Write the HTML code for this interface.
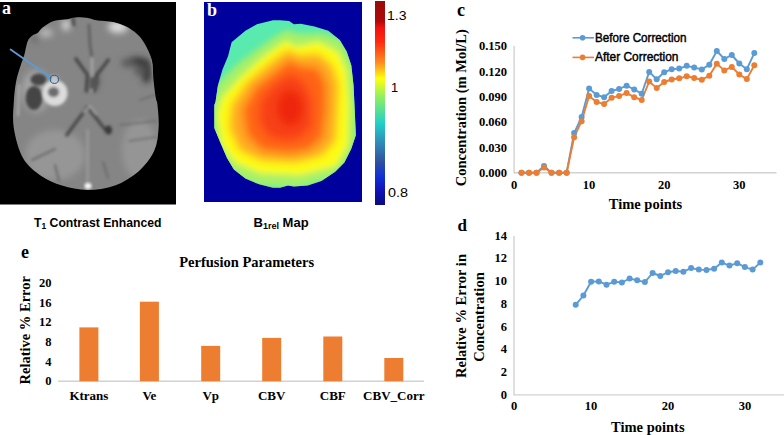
<!DOCTYPE html>
<html><head><meta charset="utf-8"><style>
html,body{margin:0;padding:0;background:#fff;width:784px;height:435px;overflow:hidden}
svg{position:absolute;left:0;top:0;display:block}
.serif{font-family:"Liberation Serif",serif;font-weight:bold;fill:#000}
.sans{font-family:"Liberation Sans",sans-serif;fill:#000}
</style></head><body>
<svg width="784" height="435" viewBox="0 0 784 435">
<defs>
  <filter id="blur1" x="-20%" y="-20%" width="140%" height="140%"><feGaussianBlur stdDeviation="1.5"/></filter>
  <filter id="blur4" x="-30%" y="-30%" width="160%" height="160%"><feGaussianBlur stdDeviation="4.5"/></filter>
  <filter id="blur3" x="-30%" y="-30%" width="160%" height="160%"><feGaussianBlur stdDeviation="3"/></filter>
  <clipPath id="clipA"><path d="M76.0,17.4 C80.0,17.2 85.6,17.8 89.0,18.3 C92.4,18.8 92.3,19.6 96.3,20.2 C100.3,20.8 108.0,20.9 113.0,22.0 C118.0,23.1 122.0,24.6 126.0,26.6 C130.0,28.6 133.9,31.2 137.0,34.0 C140.1,36.8 141.9,39.0 144.4,43.3 C146.9,47.6 150.3,54.0 151.8,60.0 C153.3,66.0 152.8,72.8 153.4,79.1 C154.1,85.4 155.0,93.3 155.7,97.6 C156.4,101.9 157.0,99.9 157.5,105.0 C158.0,110.1 159.2,120.3 158.6,128.0 C158.0,135.7 157.4,143.7 154.0,151.0 C150.6,158.3 144.5,165.9 138.0,171.7 C131.5,177.4 123.4,182.4 115.0,185.5 C106.6,188.6 96.2,190.0 87.4,190.0 C78.6,190.0 69.7,187.8 62.0,185.5 C54.3,183.2 47.9,180.6 41.4,176.0 C34.9,171.4 27.6,166.0 23.0,158.0 C18.4,150.0 15.3,137.3 13.8,128.0 C12.3,118.7 13.4,109.8 13.8,102.0 C14.2,94.2 15.0,87.5 16.1,81.4 C17.2,75.3 19.4,69.7 20.7,65.3 C22.0,60.9 23.0,59.2 24.2,55.2 C25.4,51.2 26.3,44.6 27.6,41.4 C28.9,38.1 30.5,37.1 32.2,35.7 C33.9,34.3 36.3,34.1 38.0,32.8 C39.7,31.4 40.1,29.5 42.6,27.6 C45.1,25.7 49.3,22.6 53.0,21.3 C56.7,20.0 61.2,20.2 65.0,19.6 C68.8,19.0 72.0,17.6 76.0,17.4 Z"/></clipPath>
  <clipPath id="clipB"><path d="M273,20.3 L280,20.3 289.2,21 293.8,24.3 300.7,23.8 314.5,26.6 328.3,30.7 339.8,39.9 346.7,51.4 351.3,65.2 353.6,85.9 354.7,110 355.9,134.9 351.3,148.7 344.4,162.5 335.2,171.7 321.4,180.9 307.6,185.5 293.8,186.6 288,185.5 280,187.8 273,187.8 259.2,184.3 245.4,178.6 233.9,169.4 227,157.9 220,141.8 214.3,128 214.3,105 215.5,102 217.8,85.9 222.4,69.8 228.1,56 231.6,42.2 245.4,30.7 256.9,24.3 Z"/></clipPath>
  <linearGradient id="jet" x1="0" y1="0" x2="0" y2="1">
    <stop offset="0" stop-color="#980a0a"/>
    <stop offset="0.1" stop-color="#b00a0a"/>
    <stop offset="0.13" stop-color="#f01010"/>
    <stop offset="0.2" stop-color="#ff2a10"/>
    <stop offset="0.3" stop-color="#ff8a20"/>
    <stop offset="0.38" stop-color="#ffff10"/>
    <stop offset="0.47" stop-color="#90f060"/>
    <stop offset="0.6" stop-color="#20d0c8"/>
    <stop offset="0.7" stop-color="#3088b8"/>
    <stop offset="0.79" stop-color="#3050a0"/>
    <stop offset="0.86" stop-color="#1030d8"/>
    <stop offset="0.94" stop-color="#1010b0"/>
    <stop offset="1" stop-color="#0a0a80"/>
  </linearGradient>
</defs>

<!-- panel a -->
<rect x="0" y="2" width="176" height="202.5" fill="#000"/>
<g clip-path="url(#clipA)">
  <rect x="0" y="0" width="176" height="210" fill="#858585"/>
  <g filter="url(#blur3)">
    <ellipse cx="140" cy="150" rx="18" ry="30" fill="#959595"/>
    <ellipse cx="55" cy="155" rx="30" ry="25" fill="#969696"/>
    <ellipse cx="118" cy="27" rx="10" ry="6" fill="#dadada"/>
    <ellipse cx="66" cy="25" rx="4" ry="6" fill="#d4d4d4"/>
    <ellipse cx="46" cy="33" rx="7" ry="4" fill="#bcbcbc"/>
    <ellipse cx="35" cy="39" rx="4" ry="4" fill="#6e6e6e"/>
    <path d="M124,64 Q136,58 146,63 Q150,72 145,82" stroke="#2e2e2e" stroke-width="7" fill="none"/>
    <ellipse cx="140" cy="70" rx="6" ry="6" fill="#5a5a5a"/>
    <ellipse cx="128" cy="63" rx="7" ry="4" fill="#585858"/>
    <ellipse cx="36" cy="91" rx="14" ry="21" fill="#a4a4a4"/>
    <ellipse cx="95" cy="82" rx="4" ry="7" fill="#505050"/>
  </g>
  <g filter="url(#blur1)" fill="none" stroke-linecap="round" stroke-linejoin="round">
    <path d="M89,25 L90,45 92,58" stroke="#5a5a5a" stroke-width="2.4"/>
    <path d="M73,18 L74,25" stroke="#4a4a4a" stroke-width="3"/>
    <path d="M92,58 L92,91" stroke="#acacac" stroke-width="2"/>
    <path d="M76,59 L87.6,75 86.4,91" stroke="#484848" stroke-width="3.6"/>
    <path d="M108.3,60 L96.8,75 94.5,91" stroke="#484848" stroke-width="3.6"/>
    <path d="M91,77 L97,77 96,89 90,89 Z" fill="#555" stroke="none"/>
    <path d="M87.4,107 L66.7,134.9 M87.4,107 L105.7,130.3" stroke="#4a4a4a" stroke-width="3.4"/>
    <ellipse cx="108.5" cy="130" rx="3.5" ry="4.5" fill="#3a3a3a" stroke="none"/>
    <path d="M32,160 L55,149 M55,165 L59,181 M103,162 L108,178" stroke="#6c6c6c" stroke-width="2.2"/>
    <path d="M84,112 L90,106 96,114" stroke="#a4a4a4" stroke-width="2"/>
    <path d="M87.6,130 L87.6,183" stroke="#a8a8a8" stroke-width="1.4"/>
    <path d="M120,125 L156,121 M129,141 L156,137 M140,100 L155,95" stroke="#6a6a6a" stroke-width="1.6"/>
    <path d="M153,52 L155,75" stroke="#c8c8c8" stroke-width="2"/>
    <path d="M19,85 L18,115" stroke="#b0b0b0" stroke-width="2"/>
    
    <ellipse cx="38.5" cy="79.5" rx="8" ry="6" fill="#474747"/>
    <ellipse cx="34" cy="98" rx="8.5" ry="12" fill="#444"/>
    
  </g>
  <g filter="url(#blur1)">
    <ellipse cx="55" cy="93" rx="12.5" ry="13" fill="#dcdcdc"/>
    <ellipse cx="53.5" cy="92" rx="5.8" ry="5.3" fill="#6c6c6c"/>
    <circle cx="54.4" cy="79.3" r="4" fill="#c4c4c4"/>
  </g>
  <ellipse cx="88" cy="186" rx="3.5" ry="3" fill="#fff" filter="url(#blur1)"/>
</g>
<line x1="10.6" y1="49.4" x2="48.5" y2="76" stroke="#5B9BD5" stroke-width="1.8" stroke-linecap="round"/>
<path d="M52.2,78.6 L46.2,78.3 L50,72.9 Z" fill="#5B9BD5"/>
<circle cx="54.4" cy="79.3" r="4.1" fill="none" stroke="#1f5a8a" stroke-width="1"/>
<text class="serif" x="2" y="14" font-size="18" style="fill:#fff">a</text>

<!-- panel b -->
<rect x="204" y="2" width="158" height="200" fill="#00009c"/>
<g clip-path="url(#clipB)">
  <rect x="200" y="0" width="170" height="210" fill="#58eaae"/>
  <g filter="url(#blur3)">
    <polygon points="270,40 286,30 300,34 322,33 342,40 356,70 358,110 357,140 348,162 332,178 300,188 260,186 238,178 222,162 212,135 211,105 216,85 240,62" fill="#a8f068"/>
    <polygon points="262,58 286,41 296,47 318,42 338,52 346,70 349,105 348,145 336,166 300,175 260,173 236,163 222,145 217,115 222,98 240,78" fill="#fcfc14"/>
  </g>
  <g filter="url(#blur4)">
    <polygon points="272,62 288,50 298,56 318,54 332,66 338,85 337,105 335,140 322,155 295,162 262,160 240,150 230,128 232,105 248,82" fill="#ffa820"/>
    <polygon points="280,68 290,60 300,66 318,68 326,85 326,110 322,138 308,150 288,153 262,150 247,135 243,110 255,88" fill="#ff6418"/>
    <polygon points="290,74 304,82 312,100 312,126 300,138 285,141 268,136 259,120 261,100 274,85" fill="#f84014"/>
    <ellipse cx="290" cy="108" rx="13" ry="18" fill="#ee2810"/>
  </g>
</g>
<text class="serif" x="207" y="16" font-size="18" style="fill:#fff">b</text>
<rect x="375" y="1" width="10" height="204" fill="url(#jet)"/>
<g class="sans" font-size="12.8">
  <text x="387" y="20" textLength="19.5" lengthAdjust="spacingAndGlyphs">1.3</text>
  <text x="391" y="92.2">1</text>
  <text x="388" y="197.2" textLength="20" lengthAdjust="spacingAndGlyphs">0.8</text>
</g>

<!-- captions -->
<g class="sans" font-weight="bold" font-size="13">
  <text x="34" y="226.5" textLength="127.5" lengthAdjust="spacingAndGlyphs">T<tspan font-size="9" dy="2">1</tspan><tspan dy="-2"> Contrast Enhanced</tspan></text>
  <text x="253.6" y="226.5">B<tspan font-size="9" dy="2">1rel</tspan><tspan dy="-2"> Map</tspan></text>
</g>

<!-- panel c -->
<text class="serif" x="457" y="16" font-size="18">c</text>
<line x1="514.1" y1="46" x2="514.1" y2="173.4" stroke="#D2D2D2" stroke-width="1.4"/>
<line x1="514" y1="172.8" x2="776.5" y2="172.8" stroke="#D2D2D2" stroke-width="1.4"/>
<g class="serif" font-size="12.5" text-anchor="end"><text x="507" y="177.1">0.000</text><text x="507" y="151.7">0.030</text><text x="507" y="126.4">0.060</text><text x="507" y="101.0">0.090</text><text x="507" y="75.7">0.120</text><text x="507" y="50.3">0.150</text></g>
<g class="serif" font-size="12.5" text-anchor="middle"><text x="514.0" y="189">0</text><text x="589.1" y="189">10</text><text x="664.2" y="189">20</text><text x="739.3" y="189">30</text></g>
<text class="serif" x="645.5" y="208.5" font-size="14.5" text-anchor="middle">Time points</text>
<text class="serif" font-size="14.5" text-anchor="middle" transform="translate(466,107.8) rotate(-90)">Concentration (m Mol/L)</text>
<g fill="none" stroke-width="1.9" stroke-linejoin="round">
  <polyline points="521.5,172.8 529.0,172.8 536.5,172.8 544.0,166.0 551.5,172.8 559.1,172.8 566.6,172.8 574.1,133.1 581.6,117.1 589.1,88.4 596.6,95.0 604.1,97.2 611.6,90.9 619.1,89.0 626.6,85.7 634.2,89.5 641.7,93.7 649.2,71.9 656.7,79.3 664.2,72.3 671.7,69.2 679.2,68.6 686.7,65.8 694.2,67.6 701.8,69.4 709.3,64.8 716.8,51.0 724.3,58.9 731.8,55.0 739.3,63.5 746.8,69.2 754.3,53.1" stroke="#5B9BD5"/>
  <polyline points="521.5,172.8 529.0,172.8 536.5,172.8 544.0,167.5 551.5,172.8 559.1,172.8 566.6,172.8 574.1,137.2 581.6,121.2 589.1,95.9 596.6,101.9 604.1,104.1 611.6,97.8 619.1,95.9 626.6,93.1 634.2,97.2 641.7,100.0 649.2,81.5 656.7,88.1 664.2,82.0 671.7,79.5 679.2,78.3 686.7,76.3 694.2,78.0 701.8,79.8 709.3,75.7 716.8,63.7 724.3,70.4 731.8,66.9 739.3,74.5 746.8,79.1 754.3,65.3" stroke="#ED7D31"/>
</g>
<g fill="#5B9BD5"><circle cx="521.5" cy="172.8" r="3.0"/><circle cx="529.0" cy="172.8" r="3.0"/><circle cx="536.5" cy="172.8" r="3.0"/><circle cx="544.0" cy="166.0" r="3.0"/><circle cx="551.5" cy="172.8" r="3.0"/><circle cx="559.1" cy="172.8" r="3.0"/><circle cx="566.6" cy="172.8" r="3.0"/><circle cx="574.1" cy="133.1" r="3.0"/><circle cx="581.6" cy="117.1" r="3.0"/><circle cx="589.1" cy="88.4" r="3.0"/><circle cx="596.6" cy="95.0" r="3.0"/><circle cx="604.1" cy="97.2" r="3.0"/><circle cx="611.6" cy="90.9" r="3.0"/><circle cx="619.1" cy="89.0" r="3.0"/><circle cx="626.6" cy="85.7" r="3.0"/><circle cx="634.2" cy="89.5" r="3.0"/><circle cx="641.7" cy="93.7" r="3.0"/><circle cx="649.2" cy="71.9" r="3.0"/><circle cx="656.7" cy="79.3" r="3.0"/><circle cx="664.2" cy="72.3" r="3.0"/><circle cx="671.7" cy="69.2" r="3.0"/><circle cx="679.2" cy="68.6" r="3.0"/><circle cx="686.7" cy="65.8" r="3.0"/><circle cx="694.2" cy="67.6" r="3.0"/><circle cx="701.8" cy="69.4" r="3.0"/><circle cx="709.3" cy="64.8" r="3.0"/><circle cx="716.8" cy="51.0" r="3.0"/><circle cx="724.3" cy="58.9" r="3.0"/><circle cx="731.8" cy="55.0" r="3.0"/><circle cx="739.3" cy="63.5" r="3.0"/><circle cx="746.8" cy="69.2" r="3.0"/><circle cx="754.3" cy="53.1" r="3.0"/></g>
<g fill="#ED7D31"><circle cx="521.5" cy="172.8" r="3.0"/><circle cx="529.0" cy="172.8" r="3.0"/><circle cx="536.5" cy="172.8" r="3.0"/><circle cx="544.0" cy="167.5" r="3.0"/><circle cx="551.5" cy="172.8" r="3.0"/><circle cx="559.1" cy="172.8" r="3.0"/><circle cx="566.6" cy="172.8" r="3.0"/><circle cx="574.1" cy="137.2" r="3.0"/><circle cx="581.6" cy="121.2" r="3.0"/><circle cx="589.1" cy="95.9" r="3.0"/><circle cx="596.6" cy="101.9" r="3.0"/><circle cx="604.1" cy="104.1" r="3.0"/><circle cx="611.6" cy="97.8" r="3.0"/><circle cx="619.1" cy="95.9" r="3.0"/><circle cx="626.6" cy="93.1" r="3.0"/><circle cx="634.2" cy="97.2" r="3.0"/><circle cx="641.7" cy="100.0" r="3.0"/><circle cx="649.2" cy="81.5" r="3.0"/><circle cx="656.7" cy="88.1" r="3.0"/><circle cx="664.2" cy="82.0" r="3.0"/><circle cx="671.7" cy="79.5" r="3.0"/><circle cx="679.2" cy="78.3" r="3.0"/><circle cx="686.7" cy="76.3" r="3.0"/><circle cx="694.2" cy="78.0" r="3.0"/><circle cx="701.8" cy="79.8" r="3.0"/><circle cx="709.3" cy="75.7" r="3.0"/><circle cx="716.8" cy="63.7" r="3.0"/><circle cx="724.3" cy="70.4" r="3.0"/><circle cx="731.8" cy="66.9" r="3.0"/><circle cx="739.3" cy="74.5" r="3.0"/><circle cx="746.8" cy="79.1" r="3.0"/><circle cx="754.3" cy="65.3" r="3.0"/></g>
<line x1="572.5" y1="37.8" x2="594" y2="37.8" stroke="#5B9BD5" stroke-width="1.6"/><circle cx="582.6" cy="37.8" r="2.8" fill="#5B9BD5"/>
<line x1="572.5" y1="57.4" x2="594" y2="57.4" stroke="#ED7D31" stroke-width="1.6"/><circle cx="582.6" cy="57.4" r="2.8" fill="#ED7D31"/>
<g class="sans" font-size="12.6" stroke="#000" stroke-width="0.45">
  <text x="595" y="41.8" textLength="91.5" lengthAdjust="spacingAndGlyphs">Before Correction</text>
  <text x="595" y="61" textLength="83.5" lengthAdjust="spacingAndGlyphs">After Correction</text>
</g>

<!-- panel d -->
<text class="serif" x="457.6" y="231" font-size="17">d</text>
<line x1="514" y1="236" x2="514" y2="395.5" stroke="#D2D2D2" stroke-width="1.4"/>
<line x1="514" y1="394.9" x2="784" y2="394.9" stroke="#D2D2D2" stroke-width="1.4"/>
<g class="serif" font-size="12.5" text-anchor="end"><text x="507" y="398.8">0</text><text x="507" y="376.1">2</text><text x="507" y="353.3">4</text><text x="507" y="330.6">6</text><text x="507" y="307.8">8</text><text x="507" y="285.1">10</text><text x="507" y="262.4">12</text><text x="507" y="239.6">14</text></g>
<g class="serif" font-size="12.5" text-anchor="middle"><text x="514.2" y="410">0</text><text x="591.1" y="410">10</text><text x="668.0" y="410">20</text><text x="744.9" y="410">30</text></g>
<text class="serif" x="647.8" y="432" font-size="14.5" text-anchor="middle">Time points</text>
<g class="serif" font-size="14.5" text-anchor="middle">
<text transform="translate(465.7,316) rotate(-90)">Relative % Error in</text>
<text transform="translate(483.5,317) rotate(-90)">Concentration</text>
</g>
<polyline points="575.7,304.8 583.4,295.5 591.1,281.8 598.8,281.4 606.5,284.7 614.2,281.8 621.9,282.5 629.6,278.5 637.2,280.3 644.9,282.1 652.6,273.0 660.3,276.0 668.0,272.2 675.7,271.0 683.4,271.7 691.1,268.1 698.8,269.6 706.5,269.9 714.1,268.7 721.8,262.6 729.5,265.6 737.2,263.2 744.9,267.1 752.6,269.6 760.3,262.6" fill="none" stroke="#5B9BD5" stroke-width="1.9" stroke-linejoin="round"/>
<g fill="#5B9BD5"><circle cx="575.7" cy="304.8" r="3.0"/><circle cx="583.4" cy="295.5" r="3.0"/><circle cx="591.1" cy="281.8" r="3.0"/><circle cx="598.8" cy="281.4" r="3.0"/><circle cx="606.5" cy="284.7" r="3.0"/><circle cx="614.2" cy="281.8" r="3.0"/><circle cx="621.9" cy="282.5" r="3.0"/><circle cx="629.6" cy="278.5" r="3.0"/><circle cx="637.2" cy="280.3" r="3.0"/><circle cx="644.9" cy="282.1" r="3.0"/><circle cx="652.6" cy="273.0" r="3.0"/><circle cx="660.3" cy="276.0" r="3.0"/><circle cx="668.0" cy="272.2" r="3.0"/><circle cx="675.7" cy="271.0" r="3.0"/><circle cx="683.4" cy="271.7" r="3.0"/><circle cx="691.1" cy="268.1" r="3.0"/><circle cx="698.8" cy="269.6" r="3.0"/><circle cx="706.5" cy="269.9" r="3.0"/><circle cx="714.1" cy="268.7" r="3.0"/><circle cx="721.8" cy="262.6" r="3.0"/><circle cx="729.5" cy="265.6" r="3.0"/><circle cx="737.2" cy="263.2" r="3.0"/><circle cx="744.9" cy="267.1" r="3.0"/><circle cx="752.6" cy="269.6" r="3.0"/><circle cx="760.3" cy="262.6" r="3.0"/></g>

<!-- panel e -->
<text class="serif" x="21" y="258" font-size="18">e</text>
<text class="serif" x="246.7" y="266.7" font-size="14.5" text-anchor="middle">Perfusion Parameters</text>
<line x1="58" y1="381.3" x2="424" y2="381.3" stroke="#D2D2D2" stroke-width="1.4"/>
<g fill="#ED7D31"><rect x="79.4" y="327.4" width="19" height="53.8"/><rect x="139.9" y="301.7" width="19" height="79.5"/><rect x="201.2" y="345.9" width="19" height="35.3"/><rect x="262.2" y="337.9" width="19" height="43.3"/><rect x="323.3" y="336.5" width="19" height="44.7"/><rect x="384.3" y="358" width="19" height="23.2"/></g>
<g class="serif" font-size="12.5" text-anchor="end"><text x="51.5" y="385.3">0</text><text x="51.5" y="365.6">4</text><text x="51.5" y="345.9">8</text><text x="51.5" y="326.2">12</text><text x="51.5" y="306.5">16</text><text x="51.5" y="286.8">20</text></g>
<g class="serif" font-size="13" text-anchor="middle"><text x="88.9" y="400">Ktrans</text><text x="149.4" y="400">Ve</text><text x="210.7" y="400">Vp</text><text x="271.7" y="400">CBV</text><text x="332.8" y="400">CBF</text><text x="393.8" y="400">CBV_Corr</text></g>
<text class="serif" font-size="14.5" text-anchor="middle" transform="translate(29.5,330.3) rotate(-90)">Relative % Error</text>
</svg>
</body></html>
